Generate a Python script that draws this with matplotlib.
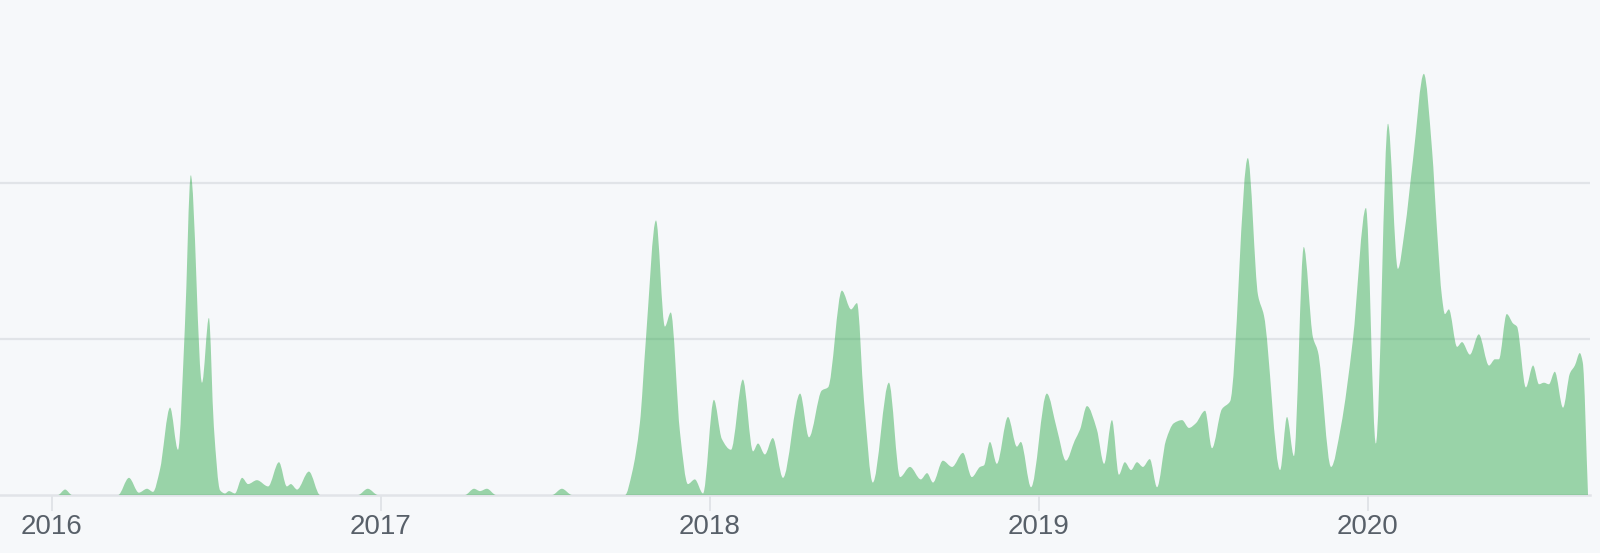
import numpy as np
import matplotlib
matplotlib.use('Agg')
import matplotlib.pyplot as plt
from matplotlib.path import Path
from matplotlib.patches import PathPatch

# fechas en año decimal y commits
dates = [2015.842, 2016.018, 2016.040, 2016.061, 2016.201, 2016.234, 2016.264, 2016.289,
         2016.307, 2016.328, 2016.359, 2016.383, 2016.404, 2016.422, 2016.456, 2016.477,
         2016.492, 2016.511, 2016.526, 2016.538, 2016.556, 2016.578, 2016.596, 2016.623,
         2016.657, 2016.690, 2016.714, 2016.726, 2016.745, 2016.781, 2016.815, 2016.930,
         2016.960, 2016.991, 2017.255, 2017.283, 2017.301, 2017.322, 2017.350, 2017.520,
         2017.550, 2017.581, 2017.742, 2017.763, 2017.787, 2017.805, 2017.836, 2017.863,
         2017.881, 2017.909, 2017.933, 2017.954, 2017.979, 2018.012, 2018.036, 2018.064,
         2018.100, 2018.131, 2018.146, 2018.167, 2018.191, 2018.222, 2018.274, 2018.301,
         2018.340, 2018.359, 2018.401, 2018.429, 2018.447, 2018.468, 2018.495, 2018.544,
         2018.578, 2018.608, 2018.641, 2018.660, 2018.678, 2018.708, 2018.736, 2018.769,
         2018.796, 2018.821, 2018.833, 2018.851, 2018.872, 2018.906, 2018.933, 2018.945,
         2018.976, 2019.024, 2019.055, 2019.082, 2019.109, 2019.125, 2019.146, 2019.176,
         2019.198, 2019.222, 2019.243, 2019.261, 2019.280, 2019.298, 2019.316, 2019.337,
         2019.359, 2019.386, 2019.410, 2019.435, 2019.456, 2019.477, 2019.505, 2019.526,
         2019.556, 2019.581, 2019.635, 2019.666, 2019.684, 2019.733, 2019.754, 2019.775,
         2019.805, 2019.833, 2019.848, 2019.888, 2019.918, 2019.954, 2019.994, 2020.024,
         2020.061, 2020.091, 2020.112, 2020.137, 2020.170, 2020.195, 2020.210, 2020.225,
         2020.234, 2020.246, 2020.271, 2020.286, 2020.310, 2020.337, 2020.368, 2020.386,
         2020.398, 2020.422, 2020.441, 2020.453, 2020.480, 2020.502, 2020.520, 2020.535,
         2020.550, 2020.568, 2020.593, 2020.614, 2020.629, 2020.644, 2020.653, 2020.669]

commits = [0, 0, 0.35, 0, 0, 1.1, 0.15, 0.4,
           0.2, 1.6, 5.6, 2.9, 10.8, 20.5, 7.2, 11.35,
           4.4, 0.3, 0.1, 0.25, 0.1, 1.1, 0.7, 0.95,
           0.55, 2.1, 0.55, 0.7, 0.35, 1.5, 0, 0,
           0.4, 0, 0, 0.4, 0.25, 0.4, 0, 0,
           0.4, 0, 0, 1.4, 4.6, 9.9, 17.6, 10.8,
           11.7, 4.0, 0.7, 1.0, 0.1, 6.1, 3.6, 2.9,
           7.4, 2.8, 3.3, 2.6, 3.65, 1.1, 6.5, 3.7,
           6.7, 6.9, 13.1, 11.9, 12.3, 6.1, 0.8, 7.2,
           1.15, 1.8, 1.0, 1.4, 0.8, 2.2, 1.8, 2.7,
           1.15, 1.8, 1.9, 3.4, 2.0, 5.0, 3.1, 3.4,
           0.5, 6.5, 4.2, 2.2, 3.5, 4.2, 5.7, 4.2,
           2.0, 4.8, 1.3, 2.1, 1.6, 2.1, 1.8, 2.3,
           0.5, 3.5, 4.6, 4.8, 4.3, 4.6, 5.4, 3.0,
           5.5, 6.0, 21.6, 12.8, 11.5, 1.6, 5.0, 2.5,
           15.9, 10.1, 9.2, 1.8, 4.4, 9.9, 18.4, 3.3,
           23.8, 14.5, 17.0, 21.5, 27.0, 22.1, 17.0, 12.7,
           11.6, 11.9, 9.5, 9.8, 9.0, 10.3, 8.3, 8.7,
           8.7, 11.6, 11.0, 10.8, 6.9, 8.3, 7.1, 7.2,
           7.1, 7.9, 5.6, 7.8, 8.3, 9.1, 8.5, 0]

years = [2016, 2017, 2018, 2019, 2020]
year_labels = ['2016', '2017', '2018', '2019', '2020']
gridlines = [10, 20]


def monotone_path(x, y):
    # curva monotona (Fritsch-Carlson) como segmentos bezier
    x = np.asarray(x, float)
    y = np.asarray(y, float)
    h = np.diff(x)
    d = np.diff(y) / h
    m = np.zeros(len(x))
    m[0], m[-1] = d[0], d[-1]
    for k in range(1, len(x) - 1):
        if d[k - 1] * d[k] <= 0:
            m[k] = 0
        else:
            w1 = 2 * h[k] + h[k - 1]
            w2 = h[k] + 2 * h[k - 1]
            m[k] = (w1 + w2) / (w1 / d[k - 1] + w2 / d[k])
    verts = [(x[0], 0), (x[0], y[0])]
    codes = [Path.MOVETO, Path.LINETO]
    for k in range(len(x) - 1):
        verts += [(x[k] + h[k] / 3, y[k] + m[k] * h[k] / 3),
                  (x[k + 1] - h[k] / 3, y[k + 1] - m[k + 1] * h[k] / 3),
                  (x[k + 1], y[k + 1])]
        codes += [Path.CURVE4] * 3
    verts += [(x[-1], 0), (x[0], 0)]
    codes += [Path.LINETO, Path.CLOSEPOLY]
    return Path(verts, codes)


plt.rcParams['font.family'] = ['Liberation Sans', 'DejaVu Sans']

fig = plt.figure(figsize=(16, 5.53), dpi=100)
fig.patch.set_facecolor('#f6f8fa')
ax = fig.add_axes([0, 58 / 553, 1590 / 1600, 455 / 553])
ax.set_facecolor('#f6f8fa')

for g in gridlines:
    ax.axhline(g, color='#e1e4e8', lw=1.6, zorder=1)
ax.axhline(0, color='#e1e4e8', lw=1.8, zorder=1, clip_on=False)

area = PathPatch(monotone_path(dates, commits), facecolor='#28a745', alpha=0.45,
                 edgecolor='none', zorder=2)
ax.add_patch(area)

ax.set_xlim(2015.842, 2020.675)
ax.set_ylim(0, 29.17)
ax.set_xticks(years)
ax.set_xticklabels(year_labels)
ax.set_yticks([])
ax.tick_params(axis='x', length=11.5, width=1.4, color='#e1e4e8', labelsize=20,
               labelcolor='#586069', pad=2)
for s in ax.spines.values():
    s.set_visible(False)

fig.savefig('out.png', dpi=100, facecolor=fig.get_facecolor())
